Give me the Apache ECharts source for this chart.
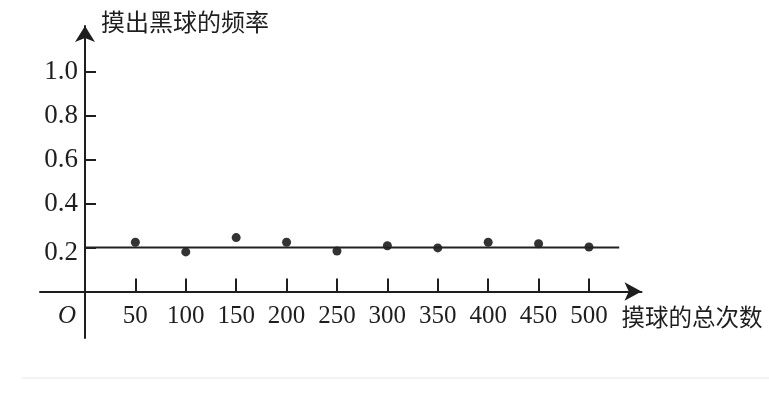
<!DOCTYPE html>
<html>
<head>
<meta charset="utf-8">
<script src="https://cdn.jsdelivr.net/npm/echarts@6/dist/echarts.min.js"></script>
<style>
html,body{margin:0;padding:0;background:#fff;}
#chart{width:769px;height:401px;}
</style>
</head>
<body>
<div id="chart"></div>
<script>
// Data
var draws = [50, 100, 150, 200, 250, 300, 350, 400, 450, 500];
var freq = [0.224, 0.18, 0.245, 0.224, 0.184, 0.208, 0.198, 0.224, 0.217, 0.202];
var refValue = 0.2;
var refRange = [0, 530];
var xTicks = [50, 100, 150, 200, 250, 300, 350, 400, 450, 500];
var yTicks = [0.2, 0.4, 0.6, 0.8, 1.0];
var xName = '摸球的总次数';
var yName = '摸出黑球的频率';
var originLabel = 'O';

var chart = echarts.init(document.getElementById('chart'), null, {renderer: 'canvas'});
var ink = '#1e1e1e';
var serif = '"Liberation Serif", "Times New Roman", serif';
var cjk = '"Noto Sans CJK SC", sans-serif';

var option = {
  animation: false,
  backgroundColor: '#ffffff',
  grid: {left: 40, right: 127.5, top: 26, bottom: 63, containLabel: false},
  xAxis: {
    type: 'value',
    position: 'bottom',
    offset: -46.5,
    min: -44.6, max: 552.1,
    splitLine: {show: false},
    axisLine: {onZero: false, lineStyle: {color: ink, width: 2}, symbol: ['none', 'arrow'], symbolSize: [14, 17]},
    axisTick: {show: true, inside: true, length: 13, lineStyle: {color: ink, width: 2}, customValues: xTicks},
    axisLabel: {
      customValues: [0].concat(xTicks),
      margin: 12,
      color: ink,
      fontFamily: serif,
      fontSize: 25,
      formatter: function (v) { return v === 0 ? '{o|' + originLabel + '}' : String(v); },
      rich: {o: {fontFamily: serif, fontStyle: 'italic', fontSize: 25, color: ink, padding: [0, 36, 0, 0]}}
    },
    name: xName,
    nameLocation: 'end',
    nameGap: -20,
    nameTextStyle: {fontFamily: cjk, fontSize: 23.5, color: ink, align: 'left', verticalAlign: 'top', padding: [14, 0, 0, 0]}
  },
  yAxis: {
    type: 'value',
    position: 'left',
    offset: -45,
    min: -0.2114, max: 1.2068,
    splitLine: {show: false},
    axisLine: {onZero: false, lineStyle: {color: ink, width: 2}, symbol: ['none', 'arrow'], symbolSize: [15, 16]},
    axisTick: {show: true, inside: true, length: 11, lineStyle: {color: ink, width: 2}, customValues: yTicks},
    axisLabel: {
      customValues: yTicks,
      margin: 7,
      color: ink,
      fontFamily: serif,
      fontSize: 27,
      formatter: function (v) { return v === 0.2 ? '{low|' + v.toFixed(1) + '}' : v.toFixed(1); },
      rich: {low: {fontFamily: serif, fontSize: 27, color: ink, padding: [11, 0, 0, 0]}}
    },
    name: yName,
    nameLocation: 'end',
    nameGap: 4,
    nameTextStyle: {fontFamily: cjk, fontSize: 24, color: ink, align: 'left', verticalAlign: 'middle', padding: [0, 0, 0, 16]}
  },
  graphic: [{
    type: 'rect',
    shape: {x: 22, y: 377, width: 747, height: 2},
    style: {fill: '#f3f3f3'},
    silent: true
  }],
  series: [
    {
      type: 'line',
      data: [[refRange[0], refValue], [refRange[1], refValue]],
      symbol: 'none',
      lineStyle: {color: '#222', width: 2},
      silent: true
    },
    {
      type: 'scatter',
      data: draws.map(function (d, i) { return [d, freq[i]]; }),
      symbol: 'circle',
      symbolSize: 9,
      itemStyle: {color: '#000'}
    }
  ]
};
chart.setOption(option);
</script>
</body>
</html>
